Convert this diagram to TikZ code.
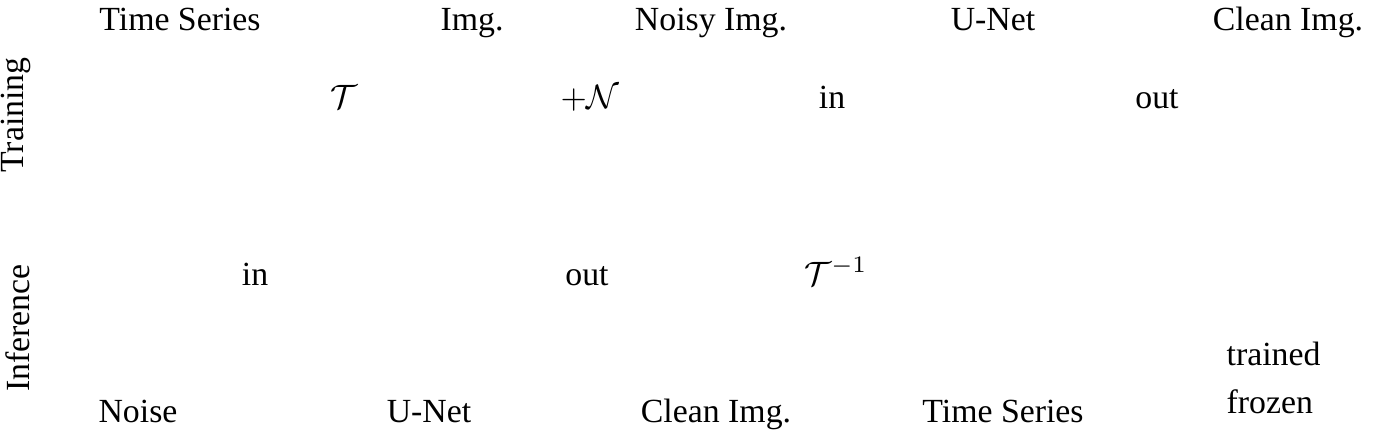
\documentclass[tikz,border=0pt]{standalone}
\usepackage{fontspec}
\setmainfont{Liberation Serif}
\begin{document}
\begin{tikzpicture}[x=0.2959pt, y=-0.2959pt]
            \useasboundingbox (0,0) rectangle (1377,431);
            \begin{scope}[
                    every node/.style={anchor=base, inner sep=0pt}
                ]
                % training row
                \node (ts) at (180,30) {Time Series};
                \node (img) at (472,30) {Img.};
                \node (noisy) at (711,30) {Noisy Img.};
                \node (unet) at (993,30) {U-Net};
                \node (clean) at (1288,30) {Clean Img.};

                \node (T) at (344,108) {$\mathcal{T}$};
                \node (N) at (590,108) {$+\mathcal{N}$};
                \node (tin) at (832,108) {in};
                \node (tout) at (1157,108) {out};

                % inference row
                \node (iin) at (255,285) {in};
                \node (iout) at (587,285) {out};
                \node (Tinv) at (836,285) {$\mathcal{T}^{-1}$};

                \node (noise) at (138,422) {Noise};
                \node (unet2) at (429,422) {U-Net};
                \node (clean2) at (716,422) {Clean Img.};
                \node (ts2) at (1003,422) {Time Series};
            \end{scope}

            \node[anchor=base west, inner sep=0pt] (trained) at (1226,365) {trained};
            \node[anchor=base west, inner sep=0pt] (frozen) at (1226,413) {frozen};

            \node[rotate=90, inner sep=0pt] (train) at (16,115) {Training};
            \node[rotate=90, inner sep=0pt] (infer) at (18,328) {Inference};
        \end{tikzpicture}
\end{document}
